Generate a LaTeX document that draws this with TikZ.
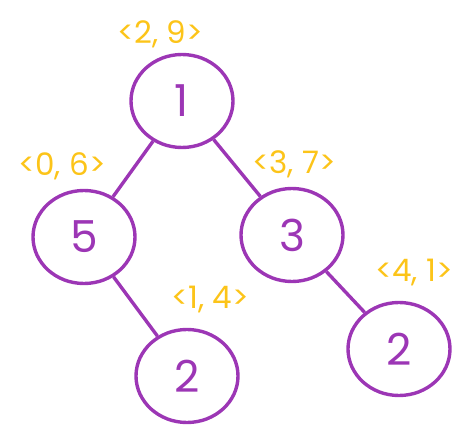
\documentclass[tikz,border=0pt]{standalone}
\usepackage{fontspec}
\setmainfont{Poppins}
\usetikzlibrary{shapes.geometric}
\definecolor{violet}{HTML}{9C36B5}
\definecolor{gold}{HTML}{FCC419}
\tikzstyle{vtx}=[ellipse,draw=violet,line width=3.4pt,minimum width=102pt,
                minimum height=93pt,inner sep=0pt,text=violet,font=\fontsize{44}{44}\selectfont]
\tikzstyle{rng}=[text=gold,inner sep=0pt,font=\fontsize{31}{31}\selectfont]
\tikzstyle{edge}=[draw=violet,line width=3.4pt]
\begin{document}
\begin{tikzpicture}[x=1pt,y=-1pt]
\useasboundingbox (0,0) rectangle (474,438);
\node [vtx] (root) at (182,101) {1};
\node [vtx] (five) at (84,237) {5};
\node [vtx] (three) at (292,235) {3};
\node [vtx] (lefttwo) at (187,376) {2};
\node [vtx] (righttwo) at (399,349) {2};
% ranges above each node
\node [rng] (rroot) at (160,34) {<2, 9>};
\node [rng] (rfive) at (62,166) {<0, 6>};
\node [rng] (rthree) at (294,164) {<3, 7>};
\node [rng] (rlefttwo) at (210,300) {<1, 4>};
\node [rng] (rrighttwo) at (414,273) {<4, 1>};
\path [edge] (root) -- (five);
\path [edge] (root) -- (three);
\path [edge] (five) -- (lefttwo);
\path [edge] (three) -- (righttwo);
\end{tikzpicture}
\end{document}
